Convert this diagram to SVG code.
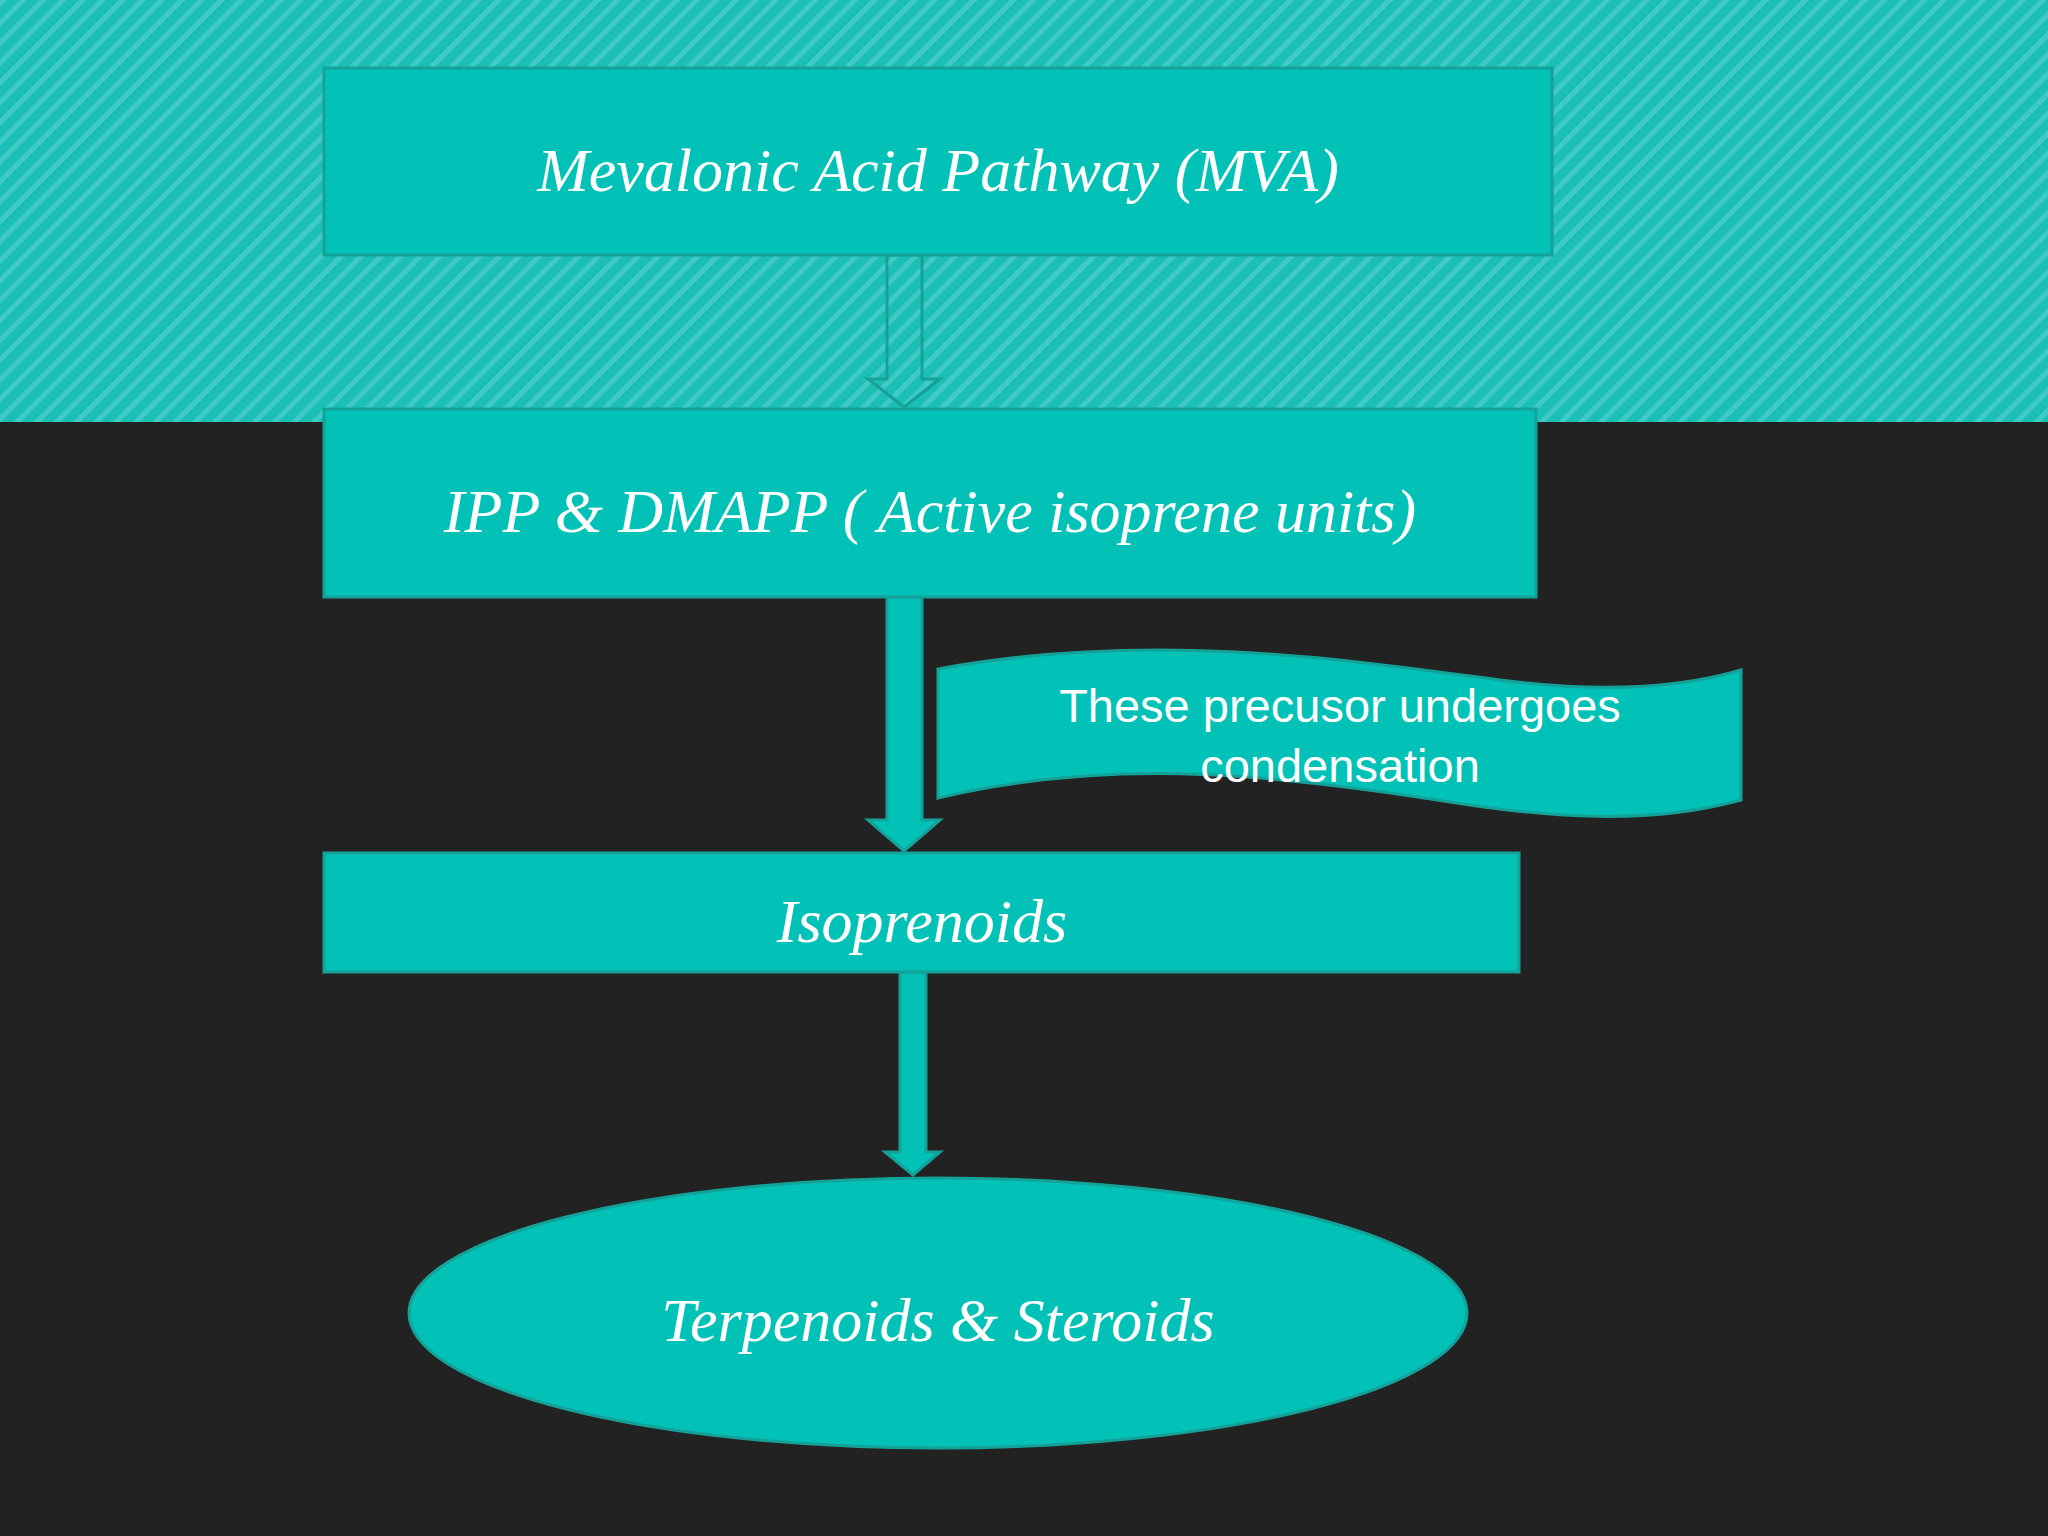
<svg xmlns="http://www.w3.org/2000/svg" width="2048" height="1536" viewBox="0 0 2048 1536">
<defs>
<pattern id="st" patternUnits="userSpaceOnUse" width="14" height="14" patternTransform="rotate(45)">
<rect width="14" height="14" fill="#1cbfb5"/><rect width="5" height="14" fill="#3fcbc3"/>
</pattern>
<style>
.n{fill:#02c2b7;stroke:#14a198;stroke-width:3}
.t{font-family:"Liberation Serif",serif;font-style:italic;font-size:62px;fill:#fff;text-anchor:middle}
.s{font-family:"Liberation Sans",Arial,sans-serif;font-size:47px;fill:#fff;text-anchor:middle}
</style>
</defs>
<rect width="2048" height="1536" fill="#222222"/>
<rect width="2048" height="422" fill="url(#st)"/>
<g id="connectors">
<path class="n" d="M887 255V379H868L904 407L940 379H922V255Z" fill="none" style="fill:none"/>
<path class="n" d="M887 597V820H868L904 851L940 820H922V597Z"/>
<path class="n" d="M900 972V1152H885L913 1175L940 1152H926V972Z"/>
</g>
<g id="mva"><rect class="n" x="324" y="68" width="1228" height="187"/><text class="t" x="938" y="191">Mevalonic Acid Pathway (MVA)</text></g>
<g id="ipp"><rect class="n" x="324" y="409" width="1212" height="188"/><text class="t" x="930" y="532">IPP &amp; DMAPP ( Active isoprene units)</text></g>
<g id="banner"><path class="n" d="M938 669C1150 630 1350 660 1500 680C1600 693 1680 688 1741 670V800C1650 825 1550 818 1450 802C1250 770 1100 760 938 798Z"/>
<text class="s" x="1340" y="722">These precusor undergoes</text><text class="s" x="1340" y="782">condensation</text></g>
<g id="iso"><rect class="n" x="324" y="853" width="1195" height="119"/><text class="t" x="922" y="942">Isoprenoids</text></g>
<g id="terp"><ellipse class="n" cx="938" cy="1313" rx="529" ry="135"/><text class="t" x="938" y="1341">Terpenoids &amp; Steroids</text></g>
</svg>
